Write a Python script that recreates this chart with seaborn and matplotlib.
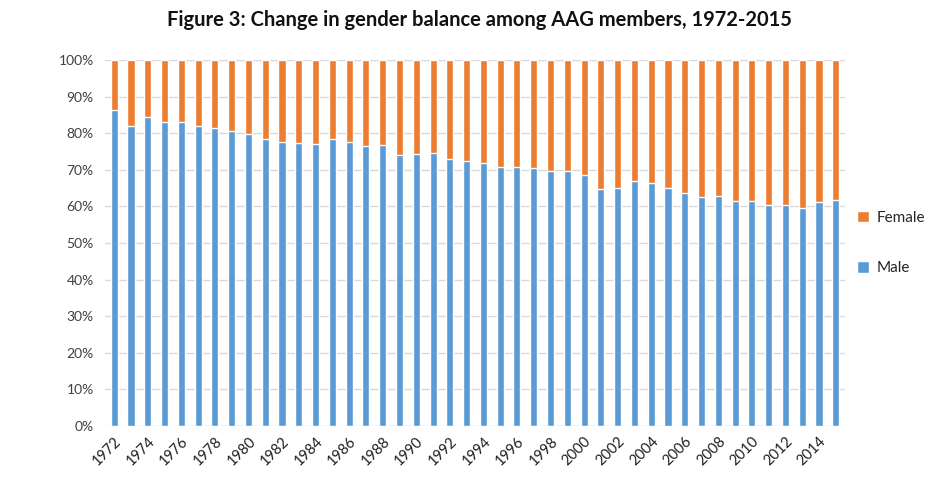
import numpy as np
import pandas as pd
import matplotlib.pyplot as plt
import seaborn as sns
from matplotlib.patches import Patch

sns.set_theme(style="white")
plt.rcParams['font.family'] = ['Lato', 'DejaVu Sans']

# --- data (male share in %) ---
years = list(range(1972, 2016))
male_pct = [86.4, 82.1, 84.4, 83.2, 83.2, 82.1, 81.5, 80.5, 79.8, 78.4,
            77.7, 77.3, 77.0, 78.4, 77.5, 76.5, 76.7, 74.1, 74.2, 74.5,
            72.9, 72.4, 71.9, 70.9, 70.7, 70.6, 69.7, 69.6, 68.5, 64.7,
            64.9, 67.0, 66.3, 64.9, 63.6, 62.7, 62.9, 61.6, 61.4, 60.5,
            60.3, 59.5, 61.2, 61.8]
female_pct = [100 - m for m in male_pct]

df = pd.DataFrame({"year": years, "Male": male_pct, "Female": female_pct})
df["total"] = df["Male"] + df["Female"]

blue = "#5B9BD5"
orange = "#ED7D31"

fig = plt.figure(figsize=(9.5, 5.01), dpi=100)
ax = fig.add_axes([0.1105, 0.150, 0.7790, 0.730])

# stacked bars: full-height female bar, male bar drawn over it
sns.barplot(data=df, x="year", y="total", color=orange, width=0.42,
            saturation=1, ax=ax, zorder=2)
sns.barplot(data=df, x="year", y="Male", color=blue, width=0.42,
            saturation=1, ax=ax, zorder=3)

ax.set_ylim(0, 100)
ax.set_xlim(-0.55, len(years) - 0.45)
ax.set_yticks(np.arange(0, 101, 10))
ax.set_yticklabels([f"{v}%" for v in range(0, 101, 10)], fontsize=10, color="#404040")
ax.set_xticks(range(0, len(years), 2))
ax.set_xticklabels([str(y) for y in years[::2]], rotation=45, ha="right",
                   rotation_mode="anchor", fontsize=10.5, color="#202020")
ax.tick_params(axis="both", length=0, pad=8)
ax.tick_params(axis="x", pad=6)
ax.yaxis.grid(True, color="#D9D9D9", linewidth=1, zorder=0)
ax.set_axisbelow(True)
for s in ax.spines.values():
    s.set_visible(False)
ax.set_xlabel("")
ax.set_ylabel("")

fig.text(0.505, 0.960, "Figure 3: Change in gender balance among AAG members, 1972-2015",
         ha="center", va="center", fontsize=14.5, fontweight="bold", color="#111111")

handles = [Patch(facecolor=orange, label="Female"), Patch(facecolor=blue, label="Male")]
fig.legend(handles=handles, loc="center left", bbox_to_anchor=(0.888, 0.515),
           frameon=False, fontsize=11, handlelength=0.75, handleheight=0.75,
           handletextpad=0.5, labelspacing=2.4)

plt.savefig("out.png", dpi=100)
plt.close()
